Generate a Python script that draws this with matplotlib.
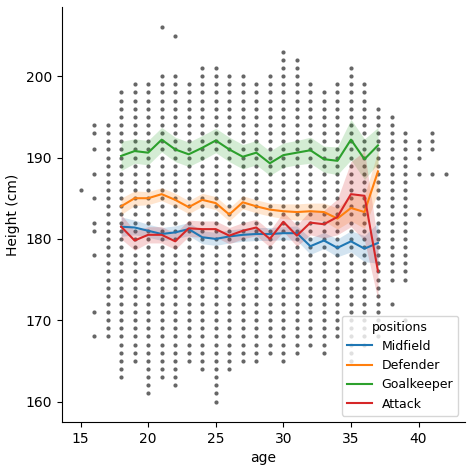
import numpy as np
import matplotlib
matplotlib.use("Agg")
import matplotlib.pyplot as plt

# scatter: per age, min and max height seen (points sit on integer cm)
ages = list(range(15, 43))
h_lo = [186, 171, 168, 163, 165, 161, 163, 162, 165, 164, 160, 164, 165, 165, 166, 165, 166, 167, 166, 168, 165, 168, 169, 175, 175, 183, 188, 188]
h_hi = [186, 194, 194, 198, 199, 199, 200, 200, 199, 201, 201, 200, 200, 199, 200, 203, 202, 199, 198, 199, 201, 199, 196, 195, 193, 192, 193, 188]
gaps = {15: [], 16: [172, 173, 174, 175, 176, 177, 179, 180, 183, 184, 186, 187, 189, 190, 192], 40: [184, 185, 186, 187, 189], 41: [184, 185, 186, 187, 189, 190], 42: [189, 190, 191, 192]}
extra_x = [21, 22, 16, 36, 37, 38, 39]
extra_y = [206, 205, 168, 167, 168, 172, 170]

pos_names = ["Midfield", "Defender", "Goalkeeper", "Attack"]
line_age = list(range(18, 38))
midfield = [181.5, 181.4, 181.0, 180.6, 180.8, 181.2, 180.2, 180.0, 180.3, 180.5, 180.6, 180.6, 180.7, 180.7, 179.1, 179.8, 178.9, 179.7, 178.8, 179.5]
defender = [184.0, 185.0, 185.0, 185.5, 184.8, 183.9, 184.8, 184.4, 183.0, 184.5, 184.0, 183.6, 183.4, 183.3, 183.4, 183.3, 182.5, 183.8, 183.3, 188.3]
goalkeeper = [190.2, 190.8, 190.6, 192.2, 191.0, 190.4, 191.2, 192.1, 191.0, 190.1, 190.6, 189.3, 190.3, 190.6, 190.9, 189.8, 189.6, 192.2, 189.8, 191.5]
attack = [181.5, 179.8, 180.5, 180.5, 179.7, 181.3, 181.2, 181.2, 180.4, 181.0, 181.4, 180.0, 182.1, 180.4, 182.0, 181.8, 182.7, 185.5, 185.3, 176.0]
ci_mid = [1.2, 0.9, 0.8, 0.8, 0.8, 0.8, 0.8, 0.8, 0.8, 0.8, 0.8, 0.8, 0.8, 0.9, 1.0, 1.0, 1.1, 1.3, 1.6, 2.5]
ci_def = [1.0, 0.9, 0.8, 0.8, 0.8, 0.8, 0.8, 0.8, 0.8, 0.8, 0.8, 0.8, 0.9, 1.0, 1.0, 1.1, 1.3, 1.6, 2.0, 2.5]
ci_gk = [1.8, 1.5, 1.5, 1.5, 1.5, 1.5, 1.5, 1.5, 1.5, 1.5, 1.5, 1.5, 1.5, 1.5, 1.6, 1.6, 1.7, 2.5, 2.5, 2.2]
ci_att = [1.5, 1.2, 1.0, 1.0, 1.0, 1.0, 1.0, 1.0, 1.0, 1.0, 1.0, 1.0, 1.2, 1.3, 1.5, 1.7, 2.2, 4.0, 5.5, 3.5]

xs, ys = [], []
for a, lo, hi in zip(ages, h_lo, h_hi):
    skip = gaps.get(a, [])
    for h in range(lo, hi + 1):
        if h not in skip:
            xs.append(a)
            ys.append(h)
xs += extra_x
ys += extra_y

fig, ax = plt.subplots(figsize=(4.74, 4.74), dpi=100)
ax.scatter(xs, ys, s=9, color="#666666", linewidths=0, zorder=1)

colors = ["#1f77b4", "#ff7f0e", "#2ca02c", "#d62728"]
for name, m, ci, c in zip(pos_names, [midfield, defender, goalkeeper, attack],
                          [ci_mid, ci_def, ci_gk, ci_att], colors):
    m = np.array(m)
    ci = np.array(ci)
    ax.fill_between(line_age, m - ci, m + ci, color=c, alpha=0.2, linewidth=0, zorder=2)
    ax.plot(line_age, m, color=c, lw=1.5, label=name, zorder=3)

ax.set_xlim(13.6, 43.4)
ax.set_ylim(157.5, 208.5)
ax.set_xticks([15, 20, 25, 30, 35, 40])
ax.set_yticks([160, 170, 180, 190, 200])
ax.set_xlabel("age")
ax.set_ylabel("Height (cm)")
ax.spines["top"].set_visible(False)
ax.spines["right"].set_visible(False)
ax.legend(title="positions", loc="lower right", framealpha=0.8, fontsize=9, title_fontsize=9)
fig.subplots_adjust(left=0.13, right=0.98, bottom=0.11, top=0.985)
fig.savefig("out.png")
